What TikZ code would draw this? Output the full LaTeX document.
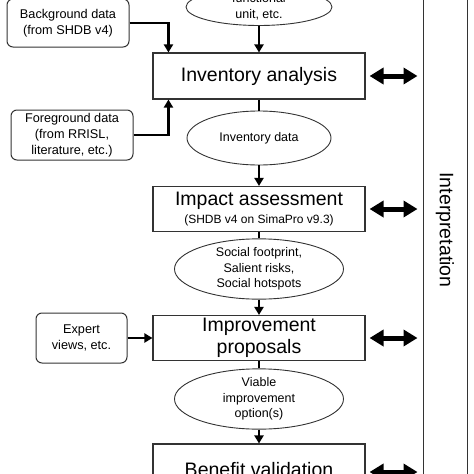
\documentclass[tikz,border=0pt]{standalone}
\usepackage{fontspec}
\setmainfont{Liberation Sans}
\usetikzlibrary{shapes.geometric}
\usetikzlibrary{arrows.meta}

\begin{document}
\begin{tikzpicture}[x=1pt, y=-1pt,
  stage/.style={draw=black!80, line width=1.1pt, minimum width=212pt, minimum height=46pt,
    inner sep=0pt, align=center, font=\fontsize{19.5}{22}\selectfont},
  result/.style={draw=black!80, line width=0.9pt, ellipse, minimum width=169pt, minimum height=56pt,
    inner sep=0pt, align=center, font=\fontsize{12.5}{15.5}\selectfont},
  source/.style={draw=black!80, line width=1pt, rounded corners=6pt, inner sep=0pt,
    align=center, font=\fontsize{12.7}{16}\selectfont},
  flow/.style={line width=2.6pt, -{Triangle[length=8pt,width=9pt]}},
  link/.style={line width=2.6pt},
  twoway/.style={line width=5pt, shorten <=4pt, shorten >=5pt,
    {Triangle[length=14pt,width=16pt]}-{Triangle[length=14pt,width=16pt]}}]

\clip (0,0) rectangle (474,474);

% main column
\node[result, minimum width=146pt, minimum height=32pt] (goal) at (259,7) {functional\\unit, etc.};
\node[stage] (inv) at (259,76) {Inventory analysis};
\node[result, minimum width=144pt, minimum height=54pt] (invdata) at (259,138) {Inventory data};
\node[stage, minimum height=45pt] (impact) at (259,209) {Impact assessment\\[-4pt]{\fontsize{12}{14}\selectfont (SHDB v4 on SimaPro v9.3)}};
\node[result] (risks) at (259,269) {Social footprint,\\Salient risks,\\Social hotspots};
\node[stage, minimum height=45pt] (improve) at (259,338) {Improvement\\proposals};
\node[result] (options) at (259,399) {Viable\\improvement\\option(s)};
\node[stage, minimum height=52pt] (benefit) at (259,470) {Benefit validation};

% inputs on the left
\node[source, minimum width=122pt, minimum height=48pt] (bgdata) at (68,23) {Background data\\(from SHDB v4)};
\node[source, minimum width=122pt, minimum height=50pt] (fgdata) at (72,135) {Foreground data\\(from RRISL,\\literature, etc.)};
\node[source, minimum width=91pt, minimum height=50pt] (expert) at (81.5,338) {Expert\\views, etc.};

% interpretation frame
\node[draw=black!80, line width=1pt, rotate=-90, minimum width=520pt, minimum height=44pt,
  font=\fontsize{19.5}{22}\selectfont] (interp) at (445,230) {Interpretation};

\draw[flow] (goal) -- (inv);
\draw[link] (inv) -- (invdata);
\draw[flow] (invdata) -- (impact);
\draw[link] (impact) -- (risks);
\draw[flow] (risks) -- (improve);
\draw[link] (improve) -- (options);
\draw[flow] (options) -- (benefit);

\draw[flow] (bgdata.east) -| ([xshift=16pt]inv.north west);
\draw[flow] (fgdata.east) -| ([xshift=16pt]inv.south west);
\draw[flow] (expert.east) -- (expert.east -| improve.west);

\draw[twoway] (inv.east) -- (inv.east -| interp.south);
\draw[twoway] (impact.east) -- (impact.east -| interp.south);
\draw[twoway] (improve.east) -- (improve.east -| interp.south);
\draw[twoway] ([yshift=-2pt]benefit.east) -- ([yshift=-2pt]benefit.east -| interp.south);
\end{tikzpicture}
\end{document}
